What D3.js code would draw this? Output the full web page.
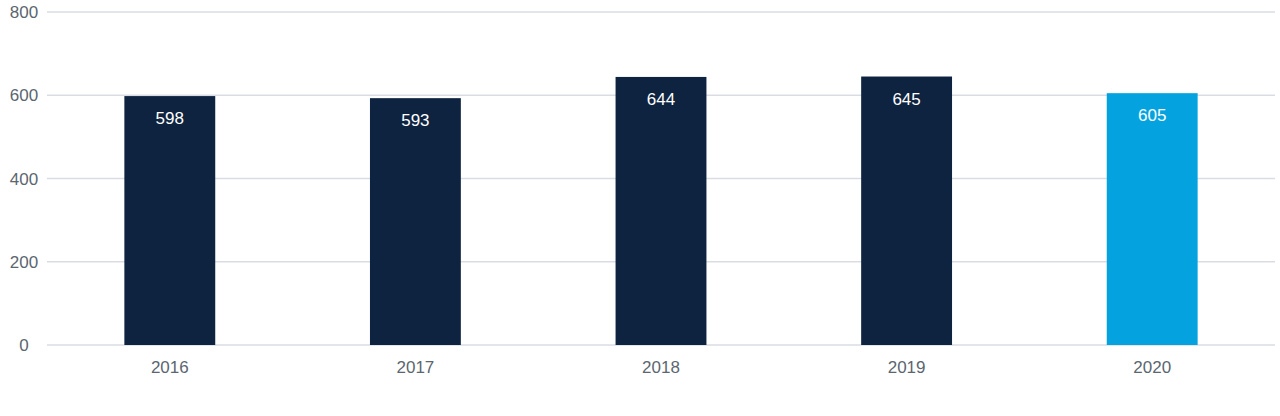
<!DOCTYPE html>
<html>
<head>
<meta charset="utf-8">
<script src="https://cdn.jsdelivr.net/npm/d3@7"></script>
<style>
  body { margin: 0; background: #fff; }
  svg { display: block; font-family: "Liberation Sans", Arial, sans-serif; }
</style>
</head>
<body>
<script>
// chart data
const years = ["2016", "2017", "2018", "2019", "2020"];
const values = [598, 593, 644, 645, 605];
const yTicks = [0, 200, 400, 600, 800];

const width = 1280, height = 416;
const svg = d3.select("body").append("svg")
  .attr("width", width)
  .attr("height", height);

// scales
const x = d3.scaleBand().domain(years).range([47, 1275]).paddingInner(0.63).paddingOuter(0.315);
const y = d3.scaleLinear().domain([0, 800]).range([345, 12]);

// gridlines
svg.selectAll(".grid")
  .data(yTicks)
  .enter()
  .append("line")
  .attr("x1", 47)
  .attr("x2", 1275)
  .attr("y1", d => y(d))
  .attr("y2", d => y(d))
  .attr("stroke", "#d9dde3")
  .attr("stroke-width", 1.5);

// y tick labels
svg.selectAll(".ylab")
  .data(yTicks)
  .enter()
  .append("text")
  .attr("x", 24)
  .attr("y", d => y(d) + 6)
  .attr("text-anchor", "middle")
  .attr("font-size", 17)
  .attr("fill", "#5b6670")
  .text(d => d);

// bars
svg.selectAll(".bar")
  .data(values)
  .enter()
  .append("rect")
  .attr("x", (d, i) => x(years[i]))
  .attr("y", d => y(d))
  .attr("width", x.bandwidth())
  .attr("height", d => y(0) - y(d))
  .attr("fill", (d, i) => i === years.length - 1 ? "#04a3e0" : "#0e2340");

// value labels inside bars
svg.selectAll(".val")
  .data(values)
  .enter()
  .append("text")
  .attr("x", (d, i) => x(years[i]) + x.bandwidth() / 2)
  .attr("y", d => y(d) + 28)
  .attr("text-anchor", "middle")
  .attr("font-size", 17)
  .attr("fill", "#ffffff")
  .text(d => d);

// x labels
svg.selectAll(".xlab")
  .data(years)
  .enter()
  .append("text")
  .attr("x", d => x(d) + x.bandwidth() / 2)
  .attr("y", 373)
  .attr("text-anchor", "middle")
  .attr("font-size", 17)
  .attr("fill", "#5b6670")
  .text(d => d);
</script>
</body>
</html>
